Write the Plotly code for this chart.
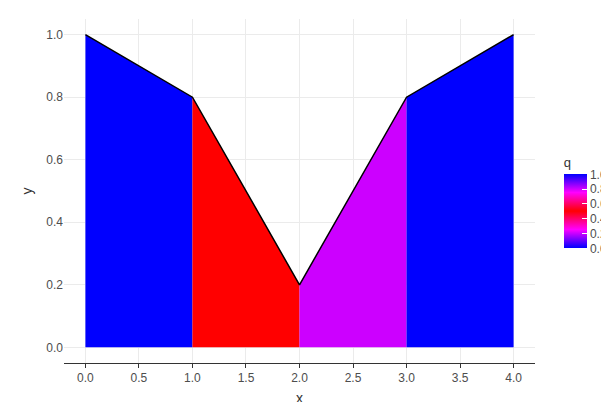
import plotly.graph_objects as go

x = [0, 1, 2, 3, 4]
y = [1.0, 0.8, 0.2, 0.8, 1.0]
seg_colors = ["#0000FF", "#FF0000", "#CC00FF", "#0000FF"]
q_vals = [0.0, 1.0]

fig = go.Figure()
for i, c in enumerate(seg_colors):
    xs = [x[i], x[i+1], x[i+1], x[i], x[i]]
    ys = [y[i], y[i+1], 0, 0, y[i]]
    fig.add_trace(go.Scatter(x=xs, y=ys, fill="toself", fillcolor=c, mode="none",
                             showlegend=False, hoverinfo="skip"))
fig.add_trace(go.Scatter(x=x, y=y, mode="lines", line=dict(color="black", width=1.5),
                         showlegend=False))
fig.add_trace(go.Scatter(x=[0, 0], y=[0, 0], mode="markers",
    marker=dict(size=0.1, color=q_vals, cmin=0, cmax=1,
        colorscale=[[0, "#0000FF"], [0.25, "#FF00FF"], [0.5, "#FF0000"], [0.75, "#FF00FF"], [1, "#0000FF"]],
        showscale=True,
        colorbar=dict(title=dict(text="q", font=dict(size=13, color="#333")), len=0.33, thickness=23,
                      x=1.04, xanchor="left", y=0.47, yanchor="middle", tickvals=[0, 0.2, 0.4, 0.6, 0.8, 1.0],
                      ticktext=["0.0", "0.2", "0.4", "0.6", "0.8", "1.0"], outlinewidth=0,
                      ticks="inside", tickcolor="white", ticklen=5,
                      tickfont=dict(size=12, color="#4d4d4d"))),
    showlegend=False, hoverinfo="skip"))

fig.update_layout(width=609, height=402, plot_bgcolor="white", paper_bgcolor="white",
                  margin=dict(l=56, r=82, t=11, b=47, autoexpand=False),
                  font=dict(family="Arial", size=12, color="#4d4d4d"))
fig.update_xaxes(range=[-0.2, 4.2], tickvals=[0, 0.5, 1, 1.5, 2, 2.5, 3, 3.5, 4],
                 ticktext=["0.0", "0.5", "1.0", "1.5", "2.0", "2.5", "3.0", "3.5", "4.0"],
                 gridcolor="#ebebeb", zeroline=False, title=dict(text="x", font=dict(size=14, color="#333"), standoff=8),
                 showline=True, linecolor="#333", ticks="outside", ticklen=4, tickcolor="#333")
fig.update_yaxes(range=[-0.05, 1.05], tickvals=[0, 0.2, 0.4, 0.6, 0.8, 1.0],
                 ticktext=["0.0", "0.2", "0.4", "0.6", "0.8", "1.0"],
                 gridcolor="#ebebeb", zeroline=False, title=dict(text="y", font=dict(size=14, color="#333"), standoff=10))
fig.write_html("out.html")
